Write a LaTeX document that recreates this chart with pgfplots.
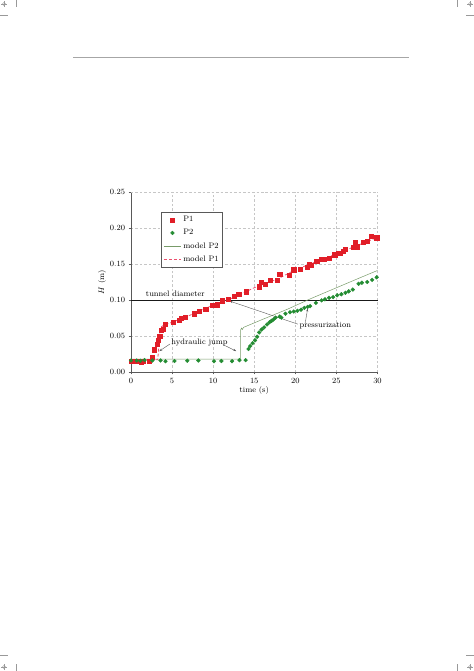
\documentclass[border=0pt]{standalone}
\usepackage{pgfplots}
\pgfplotsset{compat=1.18}
\usetikzlibrary{arrows.meta}
\definecolor{pone}{RGB}{225,30,40}
\definecolor{ptwo}{RGB}{35,140,50}
\definecolor{mtwo}{RGB}{120,155,105}
\definecolor{mone}{RGB}{235,80,110}
\begin{document}
\begin{tikzpicture}
\path[use as bounding box] (0,0) rectangle (474bp,671bp);
% rule
\draw[gray!70, line width=0.6pt] (73bp,613.5bp) -- (409bp,613.5bp);
% crop marks
\begin{scope}[gray!80, line width=0.4pt]
\draw (16.5bp,671bp) -- (16.5bp,664bp); \draw (0,655.5bp) -- (8bp,655.5bp);
\draw (1bp,667bp) -- (7bp,667bp); \draw (4bp,664bp) -- (4bp,670bp); \draw (4bp,667bp) circle (1.6bp);
\draw (457.5bp,671bp) -- (457.5bp,664bp); \draw (466bp,655.5bp) -- (474bp,655.5bp);
\draw (467bp,667bp) -- (473bp,667bp); \draw (470bp,664bp) -- (470bp,670bp); \draw (470bp,667bp) circle (1.6bp);
\draw (16.5bp,0) -- (16.5bp,7bp); \draw (0,16bp) -- (8bp,16bp);
\draw (1bp,4bp) -- (7bp,4bp); \draw (4bp,1bp) -- (4bp,7bp); \draw (4bp,4bp) circle (1.6bp);
\draw (457.5bp,0) -- (457.5bp,7bp); \draw (466bp,16bp) -- (474bp,16bp);
\draw (467bp,4bp) -- (473bp,4bp); \draw (470bp,1bp) -- (470bp,7bp); \draw (470bp,4bp) circle (1.6bp);
\end{scope}
\begin{axis}[
  at={(131bp,299bp)}, anchor=south west,
  scale only axis, width=246.5bp, height=180bp,
  xmin=0, xmax=30, ymin=0, ymax=0.25,
  xtick={0,5,...,30}, ytick={0,0.05,...,0.25},
  yticklabel style={/pgf/number format/fixed, /pgf/number format/fixed zerofill, /pgf/number format/precision=2},
  scaled y ticks=false,
  axis x line*=bottom, axis y line*=left,
  axis line style={gray!70!black, line width=0.5pt, -},
  tick align=outside, major tick length=2.5pt,
  tick style={gray!70!black},
  ticklabel style={font=\footnotesize},
  label style={font=\footnotesize},
  grid=major,
  major grid style={gray!45, dash pattern=on 2.5pt off 2pt, line width=0.5pt},
  xlabel={time (s)}, ylabel={$H$ (m)},
  xlabel style={yshift=3pt}, ylabel style={yshift=-3pt},
  legend style={at={(axis cs:3.7,0.222)}, anchor=north west, font=\footnotesize,
    draw=gray!70!black, row sep=2.2pt, inner sep=2pt, cells={anchor=west}},
  legend cell align=left,
  clip=false,
]
% top and right grid borders
\draw[gray!45, dash pattern=on 2.5pt off 2pt] (axis cs:0,0.25) -- (axis cs:30,0.25);
\draw[gray!45, dash pattern=on 2.5pt off 2pt] (axis cs:30,0) -- (axis cs:30,0.25);
% tunnel diameter line
\addplot[gray!20!black, line width=0.9pt, forget plot] coordinates {(0,0.10) (30,0.10)};
% P1
\addplot[only marks, mark=square*, mark size=2.1pt, color=pone] coordinates {
(0.05,0.0153) (0.7,0.0155) (1.2,0.014) (1.5,0.0145) (2.2,0.0145) (2.6,0.021)
(2.85,0.031) (3.15,0.039) (3.35,0.044) (3.5,0.050) (3.7,0.058) (3.95,0.060)
(4.15,0.066) (5.1,0.069) (5.9,0.072) (6.1,0.075) (6.6,0.0765) (7.7,0.081)
(8.3,0.084) (9.1,0.087) (9.95,0.093) (10.5,0.0935) (11.1,0.099) (11.8,0.101)
(12.6,0.1055) (13.1,0.108) (14.0,0.1115) (15.6,0.1185) (15.8,0.1245) (16.3,0.122)
(16.9,0.128) (17.8,0.127) (18.1,0.136) (19.3,0.134) (19.8,0.142) (20.6,0.1425)
(21.4,0.1455) (21.65,0.150) (21.95,0.148) (22.6,0.154) (23.2,0.157) (23.5,0.157)
(24.1,0.158) (24.8,0.163) (25.2,0.1645) (25.5,0.165) (25.8,0.1675) (26.1,0.170)
(27.1,0.173) (27.3,0.180) (27.5,0.174) (28.3,0.1805) (28.7,0.1815) (29.2,0.189)
(29.9,0.1865)};
\addlegendentry{P1}
% P2
\addplot[only marks, mark=*, mark size=1.9pt, color=ptwo] coordinates {
(0.0,0.016) (0.7,0.016) (1.15,0.0155) (1.65,0.0165) (2.6,0.016) (3.6,0.016)
(4.2,0.015) (5.3,0.0153) (6.85,0.0157) (8.2,0.016) (10.1,0.015) (11.0,0.0153)
(12.3,0.015) (13.2,0.0165) (13.95,0.0165) (14.3,0.032) (14.5,0.036) (14.8,0.040)
(15.1,0.044) (15.35,0.049) (15.6,0.055) (15.9,0.059) (16.2,0.062) (16.55,0.066)
(16.85,0.069) (17.1,0.071) (17.35,0.073) (17.6,0.0755) (18.1,0.077) (18.3,0.0755)
(18.8,0.081) (19.35,0.083) (19.8,0.084) (20.25,0.085) (20.7,0.0865) (21.1,0.089)
(21.5,0.0905) (21.8,0.0915) (22.5,0.096) (23.2,0.0995) (23.6,0.101) (24.1,0.103)
(24.6,0.104) (25.1,0.1065) (25.6,0.108) (26.1,0.110) (26.5,0.112) (27.0,0.1145)
(27.7,0.1225) (28.1,0.124) (28.75,0.125) (29.35,0.128) (29.9,0.1315)};
\addlegendentry{P2}
% model P2
\addplot[color=mtwo, line width=0.5pt, mark=none] coordinates {
(0,0.018) (13.3,0.018) (13.33,0.058) (13.45,0.061) (13.55,0.059) (13.7,0.062)
(16,0.073) (19,0.087) (22,0.1025) (25,0.117) (28,0.1315) (30,0.141)};
\addlegendentry{model P2}
% model P1
\addplot[color=mone, solid, line width=0.8pt, dash pattern=on 3pt off 2pt, mark=none] coordinates {
(0,0.017) (3.25,0.017) (3.35,0.03) (3.55,0.058) (3.7,0.063) (4.2,0.066) (5,0.069)
(7,0.078) (10,0.093) (12,0.101) (15,0.117) (18,0.130) (20,0.142) (25,0.164) (30,0.187)};
\addlegendentry{model P1}
% annotations
\node[anchor=base west, font=\footnotesize, inner sep=0pt] at (axis cs:1.8,0.1055) {tunnel diameter};
\node[anchor=base west, font=\footnotesize, inner sep=0pt] at (axis cs:4.9,0.0385) {hydraulic jump};
\node[anchor=base west, font=\footnotesize, inner sep=0pt] at (axis cs:20.5,0.0615) {pressurization};
\begin{scope}[gray!70!black, line width=0.4pt, -{Stealth[length=3pt,width=2pt]}]
\draw (axis cs:4.75,0.039) -- (axis cs:3.45,0.029);
\draw (axis cs:11.2,0.038) -- (axis cs:12.8,0.029);
\draw (axis cs:20.3,0.0665) -- (axis cs:12.0,0.0985);
\draw (axis cs:21.2,0.068) -- (axis cs:21.5,0.088);
\end{scope}
\end{axis}
\end{tikzpicture}
\end{document}
